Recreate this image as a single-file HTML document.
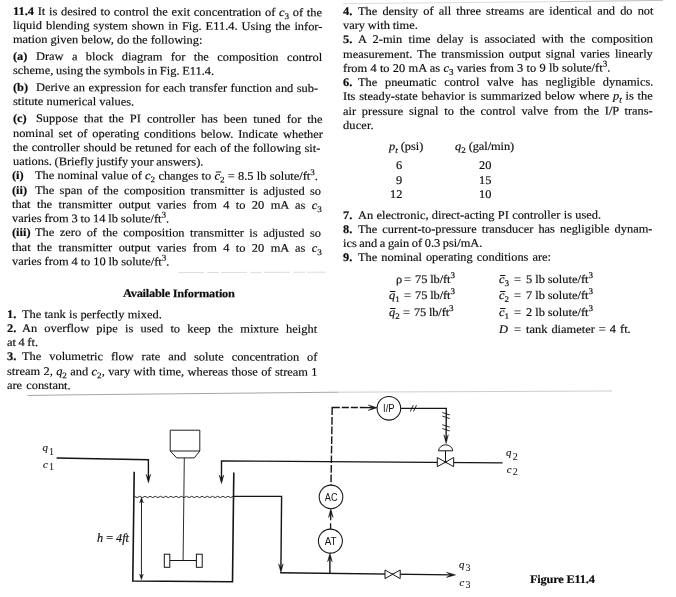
<!DOCTYPE html><html><head><meta charset="utf-8"><title>Exercise 11.4</title><style>

html,body{margin:0;padding:0;background:#fff;}
body{width:676px;height:597px;position:relative;overflow:hidden;font-family:"Liberation Serif",serif;color:#0c0c0c;}
.t{position:absolute;white-space:nowrap;transform-origin:0 0;font-size:11.6px;line-height:14px;height:14px;letter-spacing:0.0px;-webkit-text-stroke:0.17px #111;}
.sb{font-size:8.5px;position:relative;top:2.5px;line-height:0;}
.sp{font-size:8.5px;position:relative;top:-5px;line-height:0;}
.ob{position:relative;}
.ob::before{content:"";position:absolute;left:0.8px;right:-0.6px;top:1.8px;border-top:0.8px solid #111;}
#pg{position:absolute;left:0;top:0;width:676px;height:597px;filter:grayscale(1);}
svg{position:absolute;left:0;top:0;}
.lb{position:absolute;white-space:nowrap;line-height:14px;}

</style></head><body><div id="pg">
<div class="t" id="l0" style="left:13.4px;top:4.65px;transform:matrix(1.0700,0.00421,-0.00393,1,0,0);word-spacing:0.56px;"><b>11.4</b> It is desired to control the exit concentration of <i>c</i><span class="sb">3</span> of the</div>
<div class="t" id="l1" style="left:13.0px;top:19.05px;transform:matrix(1.0700,0.00414,-0.00387,1,0,0);word-spacing:0.86px;">liquid blending system shown in Fig. E11.4. Using the infor-</div>
<div class="t" id="l2" style="left:13.0px;top:33.25px;transform:matrix(1.0700,0.00407,-0.00381,1,0,0);word-spacing:0.01px;">mation given below, do the following:</div>
<div class="t" id="l3" style="left:12.8px;top:50.25px;transform:matrix(1.0700,0.00399,-0.00373,1,0,0);"><b>(a)</b></div>
<div class="t" id="l4" style="left:36.3px;top:50.25px;transform:matrix(1.0700,0.00399,-0.00373,1,0,0);word-spacing:4.95px;">Draw a block diagram for the composition control</div>
<div class="t" id="l5" style="left:12.8px;top:64.45px;transform:matrix(1.0700,0.00392,-0.00366,1,0,0);word-spacing:-0.37px;">scheme, using the symbols in Fig. E11.4.</div>
<div class="t" id="l6" style="left:12.8px;top:81.25px;transform:matrix(1.0700,0.00384,-0.00359,1,0,0);"><b>(b)</b></div>
<div class="t" id="l7" style="left:36.3px;top:81.25px;transform:matrix(1.0700,0.00384,-0.00359,1,0,0);word-spacing:0.37px;">Derive an expression for each transfer function and sub-</div>
<div class="t" id="l8" style="left:12.8px;top:95.25px;transform:matrix(1.0700,0.00377,-0.00352,1,0,0);word-spacing:0.11px;">stitute numerical values.</div>
<div class="t" id="l9" style="left:12.6px;top:112.35px;transform:matrix(1.0700,0.00369,-0.00345,1,0,0);"><b>(c)</b></div>
<div class="t" id="l10" style="left:36.0px;top:112.35px;transform:matrix(1.0700,0.00369,-0.00345,1,0,0);word-spacing:2.74px;">Suppose that the PI controller has been tuned for the</div>
<div class="t" id="l11" style="left:12.5px;top:126.65px;transform:matrix(1.0700,0.00362,-0.00338,1,0,0);word-spacing:1.66px;">nominal set of operating conditions below. Indicate whether</div>
<div class="t" id="l12" style="left:12.5px;top:140.85px;transform:matrix(1.0700,0.00355,-0.00332,1,0,0);word-spacing:0.40px;">the controller should be retuned for each of the following sit-</div>
<div class="t" id="l13" style="left:12.5px;top:155.05px;transform:matrix(1.0700,0.00348,-0.00325,1,0,0);word-spacing:-0.42px;">uations. (Briefly justify your answers).</div>
<div class="t" id="l14" style="left:12.4px;top:169.05px;transform:matrix(1.0700,0.00341,-0.00319,1,0,0);"><b>(i)</b></div>
<div class="t" id="l15" style="left:35.4px;top:169.05px;transform:matrix(1.0700,0.00341,-0.00319,1,0,0);word-spacing:0.13px;">The nominal value of <i>c</i><span class="sb">2</span> changes to <i class="ob">c</i><span class="sb">2</span> = 8.5 lb solute/ft<span class="sp">3</span>.</div>
<div class="t" id="l16" style="left:12.2px;top:183.55px;transform:matrix(1.0700,0.00334,-0.00312,1,0,0);"><b>(ii)</b></div>
<div class="t" id="l17" style="left:35.4px;top:183.55px;transform:matrix(1.0700,0.00334,-0.00312,1,0,0);word-spacing:2.10px;">The span of the composition transmitter is adjusted so</div>
<div class="t" id="l18" style="left:11.7px;top:197.85px;transform:matrix(1.0700,0.00327,-0.00306,1,0,0);word-spacing:3.07px;">that the transmitter output varies from 4 to 20 mA as <i>c</i><span class="sb">3</span></div>
<div class="t" id="l19" style="left:11.7px;top:212.05px;transform:matrix(1.0700,0.00320,-0.00299,1,0,0);word-spacing:-0.21px;">varies from 3 to 14 lb solute/ft<span class="sp">3</span>.</div>
<div class="t" id="l20" style="left:11.7px;top:226.35px;transform:matrix(1.0700,0.00313,-0.00293,1,0,0);"><b>(iii)</b></div>
<div class="t" id="l21" style="left:35.4px;top:226.35px;transform:matrix(1.0700,0.00313,-0.00293,1,0,0);word-spacing:2.27px;">The zero of the composition transmitter is adjusted so</div>
<div class="t" id="l22" style="left:11.7px;top:240.55px;transform:matrix(1.0700,0.00307,-0.00287,1,0,0);word-spacing:3.07px;">that the transmitter output varies from 4 to 20 mA as <i>c</i><span class="sb">3</span></div>
<div class="t" id="l23" style="left:11.5px;top:254.75px;transform:matrix(1.0700,0.00300,-0.00280,1,0,0);word-spacing:-0.17px;">varies from 4 to 10 lb solute/ft<span class="sp">3</span>.</div>
<div class="t" id="l24" style="left:122.9px;top:286.85px;transform:matrix(1.0700,0.00284,-0.00266,1,0,0);word-spacing:0.00px;letter-spacing:-0.25px;"><b>Available Information</b></div>
<div class="t" id="l25" style="left:7.3px;top:307.65px;transform:matrix(1.0700,0.00274,-0.00256,1,0,0);"><b>1.</b></div>
<div class="t" id="l26" style="left:22.0px;top:307.65px;transform:matrix(1.0700,0.00274,-0.00256,1,0,0);word-spacing:0.06px;">The tank is perfectly mixed.</div>
<div class="t" id="l27" style="left:7.3px;top:321.85px;transform:matrix(1.0700,0.00267,-0.00250,1,0,0);"><b>2.</b></div>
<div class="t" id="l28" style="left:22.3px;top:321.85px;transform:matrix(1.0700,0.00267,-0.00250,1,0,0);word-spacing:3.85px;">An overflow pipe is used to keep the mixture height</div>
<div class="t" id="l29" style="left:6.9px;top:335.95px;transform:matrix(1.0700,0.00260,-0.00243,1,0,0);word-spacing:-0.46px;">at 4 ft.</div>
<div class="t" id="l30" style="left:7.3px;top:350.35px;transform:matrix(1.0700,0.00253,-0.00237,1,0,0);"><b>3.</b></div>
<div class="t" id="l31" style="left:22.0px;top:350.35px;transform:matrix(1.0700,0.00253,-0.00237,1,0,0);word-spacing:4.54px;">The volumetric flow rate and solute concentration of</div>
<div class="t" id="l32" style="left:6.9px;top:364.55px;transform:matrix(1.0700,0.00246,-0.00230,1,0,0);word-spacing:0.27px;">stream 2, <i>q</i><span class="sb">2</span> and <i>c</i><span class="sb">2</span>, vary with time, whereas those of stream 1</div>
<div class="t" id="l33" style="left:6.9px;top:379.05px;transform:matrix(1.0700,0.00239,-0.00224,1,0,0);word-spacing:0.91px;">are constant.</div>
<div class="t" id="l34" style="left:343.0px;top:4.85px;transform:matrix(1.0700,-0.00214,0.00200,1,0,0);"><b>4.</b></div>
<div class="t" id="l35" style="left:357.5px;top:4.85px;transform:matrix(1.0700,-0.00214,0.00200,1,0,0);word-spacing:1.86px;">The density of all three streams are identical and do not</div>
<div class="t" id="l36" style="left:343.2px;top:19.05px;transform:matrix(1.0700,-0.00214,0.00200,1,0,0);word-spacing:-0.32px;">vary with time.</div>
<div class="t" id="l37" style="left:343.0px;top:33.25px;transform:matrix(1.0700,-0.00214,0.00200,1,0,0);"><b>5.</b></div>
<div class="t" id="l38" style="left:358.1px;top:33.25px;transform:matrix(1.0700,-0.00214,0.00200,1,0,0);word-spacing:2.97px;">A 2-min time delay is associated with the composition</div>
<div class="t" id="l39" style="left:343.2px;top:47.75px;transform:matrix(1.0700,-0.00214,0.00200,1,0,0);word-spacing:1.76px;">measurement. The transmission output signal varies linearly</div>
<div class="t" id="l40" style="left:343.2px;top:61.95px;transform:matrix(1.0700,-0.00214,0.00200,1,0,0);word-spacing:0.18px;">from 4 to 20 mA as <i>c</i><span class="sb">3</span> varies from 3 to 9 lb solute/ft<span class="sp">3</span>.</div>
<div class="t" id="l41" style="left:343.0px;top:76.15px;transform:matrix(1.0700,-0.00214,0.00200,1,0,0);"><b>6.</b></div>
<div class="t" id="l42" style="left:357.5px;top:76.15px;transform:matrix(1.0700,-0.00214,0.00200,1,0,0);word-spacing:4.22px;">The pneumatic control valve has negligible dynamics.</div>
<div class="t" id="l43" style="left:343.2px;top:90.25px;transform:matrix(1.0700,-0.00214,0.00200,1,0,0);word-spacing:0.60px;">Its steady-state behavior is summarized below where <i>p</i><span class="sb"><i>t</i></span> is the</div>
<div class="t" id="l44" style="left:343.2px;top:104.55px;transform:matrix(1.0700,-0.00214,0.00200,1,0,0);word-spacing:2.46px;">air pressure signal to the control valve from the I/P trans-</div>
<div class="t" id="l45" style="left:343.2px;top:118.75px;transform:matrix(1.0700,-0.00214,0.00200,1,0,0);word-spacing:0.00px;letter-spacing:0.12px;">ducer.</div>
<div class="t" id="l46" style="left:389.4px;top:140.35px;transform:matrix(1.0700,-0.00214,0.00200,1,0,0);word-spacing:-0.20px;"><i>p</i><span class="sb"><i>t</i></span> (psi)</div>
<div class="t" id="l47" style="left:454.8px;top:140.15px;transform:matrix(1.0700,-0.00214,0.00200,1,0,0);word-spacing:0.00px;letter-spacing:-0.07px;"><i>q</i><span class="sb">2</span> (gal/min)</div>
<div class="t" id="l48" style="left:395.8px;top:159.25px;transform:matrix(1.0700,-0.00214,0.00200,1,0,0);">6</div>
<div class="t" id="l49" style="left:479.0px;top:159.25px;transform:matrix(1.0700,-0.00214,0.00200,1,0,0);">20</div>
<div class="t" id="l50" style="left:395.8px;top:173.65px;transform:matrix(1.0700,-0.00214,0.00200,1,0,0);">9</div>
<div class="t" id="l51" style="left:479.0px;top:173.75px;transform:matrix(1.0700,-0.00214,0.00200,1,0,0);">15</div>
<div class="t" id="l52" style="left:390.0px;top:187.75px;transform:matrix(1.0700,-0.00214,0.00200,1,0,0);">12</div>
<div class="t" id="l53" style="left:479.0px;top:187.85px;transform:matrix(1.0700,-0.00214,0.00200,1,0,0);">10</div>
<div class="t" id="l54" style="left:343.0px;top:208.75px;transform:matrix(1.0700,-0.00214,0.00200,1,0,0);"><b>7.</b></div>
<div class="t" id="l55" style="left:358.4px;top:208.75px;transform:matrix(1.0700,-0.00214,0.00200,1,0,0);word-spacing:0.20px;">An electronic, direct-acting PI controller is used.</div>
<div class="t" id="l56" style="left:343.0px;top:222.95px;transform:matrix(1.0700,-0.00214,0.00200,1,0,0);"><b>8.</b></div>
<div class="t" id="l57" style="left:357.5px;top:222.95px;transform:matrix(1.0700,-0.00214,0.00200,1,0,0);word-spacing:1.79px;">The current-to-pressure transducer has negligible dynam-</div>
<div class="t" id="l58" style="left:343.2px;top:237.25px;transform:matrix(1.0700,-0.00214,0.00200,1,0,0);word-spacing:-0.51px;">ics and a gain of 0.3 psi/mA.</div>
<div class="t" id="l59" style="left:343.0px;top:251.45px;transform:matrix(1.0700,-0.00214,0.00200,1,0,0);"><b>9.</b></div>
<div class="t" id="l60" style="left:357.5px;top:251.45px;transform:matrix(1.0700,-0.00214,0.00200,1,0,0);word-spacing:0.82px;">The nominal operating conditions are:</div>
<div class="t" id="l61" style="left:396.1px;top:272.55px;transform:matrix(1.0700,-0.00214,0.00200,1,0,0);">&rho;</div>
<div class="t" id="l62" style="left:403.8px;top:272.55px;transform:matrix(1.0700,-0.00214,0.00200,1,0,0);">=</div>
<div class="t" id="l63" style="left:415.4px;top:272.55px;transform:matrix(1.0700,-0.00214,0.00200,1,0,0);word-spacing:0.00px;letter-spacing:-0.09px;">75 lb/ft<span class="sp">3</span></div>
<div class="t" id="l64" style="left:389.4px;top:288.95px;transform:matrix(1.0700,-0.00214,0.00200,1,0,0);"><i class="ob">q</i><span class="sb">1</span></div>
<div class="t" id="l65" style="left:403.8px;top:288.95px;transform:matrix(1.0700,-0.00214,0.00200,1,0,0);">=</div>
<div class="t" id="l66" style="left:415.4px;top:288.95px;transform:matrix(1.0700,-0.00214,0.00200,1,0,0);word-spacing:0.00px;letter-spacing:-0.09px;">75 lb/ft<span class="sp">3</span></div>
<div class="t" id="l67" style="left:389.4px;top:305.85px;transform:matrix(1.0700,-0.00214,0.00200,1,0,0);"><i class="ob">q</i><span class="sb">2</span></div>
<div class="t" id="l68" style="left:402.7px;top:305.85px;transform:matrix(1.0700,-0.00214,0.00200,1,0,0);">=</div>
<div class="t" id="l69" style="left:413.8px;top:305.85px;transform:matrix(1.0700,-0.00214,0.00200,1,0,0);word-spacing:0.00px;letter-spacing:-0.15px;">75 lb/ft<span class="sp">3</span></div>
<div class="t" id="l70" style="left:499.3px;top:272.55px;transform:matrix(1.0700,-0.00214,0.00200,1,0,0);"><i class="ob">c</i><span class="sb">3</span></div>
<div class="t" id="l71" style="left:514.4px;top:272.55px;transform:matrix(1.0700,-0.00214,0.00200,1,0,0);">=</div>
<div class="t" id="l72" style="left:525.5px;top:272.55px;transform:matrix(1.0700,-0.00214,0.00200,1,0,0);word-spacing:-0.13px;">5 lb solute/ft<span class="sp">3</span></div>
<div class="t" id="l73" style="left:499.3px;top:288.95px;transform:matrix(1.0700,-0.00214,0.00200,1,0,0);"><i class="ob">c</i><span class="sb">2</span></div>
<div class="t" id="l74" style="left:514.4px;top:288.95px;transform:matrix(1.0700,-0.00214,0.00200,1,0,0);">=</div>
<div class="t" id="l75" style="left:525.5px;top:288.95px;transform:matrix(1.0700,-0.00214,0.00200,1,0,0);word-spacing:-0.13px;">7 lb solute/ft<span class="sp">3</span></div>
<div class="t" id="l76" style="left:499.3px;top:305.85px;transform:matrix(1.0700,-0.00214,0.00200,1,0,0);"><i class="ob">c</i><span class="sb">1</span></div>
<div class="t" id="l77" style="left:514.4px;top:305.85px;transform:matrix(1.0700,-0.00214,0.00200,1,0,0);">=</div>
<div class="t" id="l78" style="left:525.5px;top:305.85px;transform:matrix(1.0700,-0.00214,0.00200,1,0,0);word-spacing:-0.13px;">2 lb solute/ft<span class="sp">3</span></div>
<div class="t" id="l79" style="left:499.3px;top:322.95px;transform:matrix(1.0700,-0.00214,0.00200,1,0,0);"><i>D</i></div>
<div class="t" id="l80" style="left:514.4px;top:322.95px;transform:matrix(1.0700,-0.00214,0.00200,1,0,0);">=</div>
<div class="t" id="l81" style="left:525.5px;top:322.95px;transform:matrix(1.0700,-0.00214,0.00200,1,0,0);word-spacing:0.85px;">tank diameter = 4 ft.</div>
<div class="t" id="l82" style="left:530.0px;top:572.55px;transform:matrix(1.0700,0.00053,-0.00050,1,0,0);word-spacing:0.00px;letter-spacing:-0.21px;"><b>Figure E11.4</b></div>
<svg width="676" height="597" viewBox="0 0 676 597">
<path d="M178 272.6 L326 272.2" stroke="#cfcfcf" stroke-width="0.7" stroke-dasharray="26 3 12 2" fill="none"/>
<path d="M27.4 395.5 L75 394.8 L338 392.2" stroke="#8e8e8e" stroke-width="0.8" fill="none"/>
<path d="M338 392.2 L612 391" stroke="#c0c0c0" stroke-width="0.8" fill="none"/>
<path d="M343 3.7 L560 1.6" stroke="#d8d8d8" stroke-width="0.9" fill="none"/>
<path d="M560 1.6 L663 0.4" stroke="#bdbdbd" stroke-width="1" fill="none"/>
<path d="M56.6 458.0 L148.4 459.8 L148.4 480.0" fill="none" stroke="#151515" stroke-width="1.40" />
<path d="M148.4 482.8 L146.1 474.3 L148.4 478.1 L150.7 474.3 Z" fill="#151515" stroke="#151515" stroke-width="0.5" stroke-linejoin="miter"/>
<path d="M502.6 462.9 L221.5 460.9 L221.5 481.0" fill="none" stroke="#151515" stroke-width="1.40" />
<path d="M221.5 483.5 L219.2 475.0 L221.5 478.8 L223.8 475.0 Z" fill="#151515" stroke="#151515" stroke-width="0.5" stroke-linejoin="miter"/>
<path d="M134.2 471.7 L132.8 581.0 L232.5 581.8 L233.8 472.5" fill="none" stroke="#151515" stroke-width="1.60" />
<path d="M134.5 496.3 q2.6 2.6 5.2 0 q2.6 2.6 5.2 0 q2.6 2.6 5.2 0 q2.6 2.6 5.2 0 q2.6 2.6 5.2 0 q2.6 2.6 5.2 0 q2.6 2.6 5.2 0 q2.6 2.6 5.2 0 q2.6 2.6 5.2 0 q2.6 2.6 5.2 0 q2.6 2.6 5.2 0 q2.6 2.6 5.2 0 q2.6 2.6 5.2 0 q2.6 2.6 5.2 0 q2.6 2.6 5.2 0 q2.6 2.6 5.2 0 q2.6 2.6 5.2 0 q2.6 2.6 5.2 0 q2.6 2.6 5.2 0" fill="none" stroke="#151515" stroke-width="0.9"/>
<path d="M170.2 430.2 L199.8 430.2 L199.8 451.0 L194.3 457.9 L176.8 457.9 L170.2 451.0 L170.2 430.2" fill="none" stroke="#151515" stroke-width="0.95" />
<path d="M170.2 451.0 L199.8 451.0" fill="none" stroke="#151515" stroke-width="0.95" />
<path d="M184.3 458.0 L183.1 560.5" fill="none" stroke="#151515" stroke-width="0.90" />
<path d="M169.8 560.5 L196.4 560.5" fill="none" stroke="#151515" stroke-width="1.00" />
<rect x="164.3" y="554.2" width="5.5" height="13.1" fill="#fff" stroke="#151515" stroke-width="1"/>
<rect x="196.4" y="554.2" width="5.8" height="13.1" fill="#fff" stroke="#151515" stroke-width="1"/>
<path d="M141.5 499.0 L141.4 578.0" fill="none" stroke="#151515" stroke-width="0.95" />
<path d="M141.5 497.4 L143.3 502.9 L141.5 500.4 L139.7 502.9 Z" fill="#151515" stroke="#151515" stroke-width="0.5" stroke-linejoin="miter"/>
<path d="M141.4 579.6 L139.6 574.1 L141.4 576.6 L143.2 574.1 Z" fill="#151515" stroke="#151515" stroke-width="0.5" stroke-linejoin="miter"/>
<path d="M233.8 496.4 L281.6 496.4 L280.9 570.0" fill="none" stroke="#151515" stroke-width="1.40" />
<path d="M280.9 572.4 L278.6 563.9 L280.9 567.7 L283.2 563.9 Z" fill="#151515" stroke="#151515" stroke-width="0.5" stroke-linejoin="miter"/>
<path d="M280.2 572.8 L452.0 574.9" fill="none" stroke="#151515" stroke-width="1.40" />
<path d="M455.5 574.9 L446.5 577.4 L450.6 574.8 L446.5 572.2 Z" fill="#151515" stroke="#151515" stroke-width="0.5" stroke-linejoin="miter"/>
<path d="M385.0 570.0 L385.0 578.6 L392.6 574.3 Z M400.2 570.0 L400.2 578.6 L392.6 574.3 Z" fill="#fff" stroke="#151515" stroke-width="1.00" stroke-linejoin="miter"/>
<path d="M329.9 573.2 L329.9 556.0" fill="none" stroke="#151515" stroke-width="1.40" />
<path d="M329.9 553.2 L332.2 561.7 L329.9 557.9 L327.6 561.7 Z" fill="#151515" stroke="#151515" stroke-width="0.5" stroke-linejoin="miter"/>
<path d="M330.6 529.0 L330.6 523.2" fill="none" stroke="#151515" stroke-width="1.30" />
<path d="M330.7 520.2 L330.8 511.0" fill="none" stroke="#151515" stroke-width="1.30" />
<path d="M330.8 508.9 L333.1 517.4 L330.8 513.6 L328.5 517.4 Z" fill="#151515" stroke="#151515" stroke-width="0.5" stroke-linejoin="miter"/>
<path d="M332.2 407.4 L331.0 485.0" fill="none" stroke="#151515" stroke-width="1.40" stroke-dasharray="7.7 1.9" />
<path d="M331.6 407.5 L372.0 407.6" fill="none" stroke="#151515" stroke-width="1.40" stroke-dasharray="8.3 1.9 7.1 1.9 7.1 1.9 40" />
<path d="M377.3 407.7 L368.3 410.4 L372.4 407.7 L368.3 405.0 Z" fill="#151515" stroke="#151515" stroke-width="0.5" stroke-linejoin="miter"/>
<path d="M400.7 408.3 L446.3 408.4 L446.1 441.0" fill="none" stroke="#151515" stroke-width="1.35" />
<path d="M446.1 443.6 L443.9 434.8 L446.1 438.8 L448.3 434.8 Z" fill="#151515" stroke="#151515" stroke-width="0.5" stroke-linejoin="miter"/>
<path d="M410.3 411.5 L413.3 405.2" fill="none" stroke="#151515" stroke-width="0.90" />
<path d="M413.5 411.5 L416.5 405.2" fill="none" stroke="#151515" stroke-width="0.90" />
<path d="M442.3 412.5 L449.8 415.0" fill="none" stroke="#151515" stroke-width="0.90" />
<path d="M442.3 416.1 L449.8 418.6" fill="none" stroke="#151515" stroke-width="0.90" />
<path d="M442.3 424.7 L449.8 427.2" fill="none" stroke="#151515" stroke-width="0.90" />
<path d="M442.3 428.5 L449.8 431.0" fill="none" stroke="#151515" stroke-width="0.90" />
<path d="M437.3 457.5 L437.3 466.7 L445.5 462.1 Z M453.7 457.5 L453.7 466.7 L445.5 462.1 Z" fill="#fff" stroke="#151515" stroke-width="1.00" stroke-linejoin="miter"/>
<path d="M445.5 462.0 L445.5 450.8" fill="none" stroke="#151515" stroke-width="1.00" />
<path d="M438.5 450.8 A7.2 6.8 0 0 1 452.8 450.8 Z" fill="#fff" stroke="#151515" stroke-width="1.0"/>
<circle cx="388.9" cy="408.3" r="11.8" fill="#fff" stroke="#151515" stroke-width="1.05"/>
<circle cx="331.0" cy="496.9" r="11.8" fill="#fff" stroke="#151515" stroke-width="1.05"/>
<circle cx="330.4" cy="541.1" r="12.0" fill="#fff" stroke="#151515" stroke-width="1.05"/>
<text x="383.1" y="412.2" font-family="Liberation Sans" font-size="10.5" fill="#151515" textLength="11.6" lengthAdjust="spacingAndGlyphs">I/P</text>
<text x="324.8" y="500.8" font-family="Liberation Sans" font-size="10.5" fill="#151515" textLength="12.8" lengthAdjust="spacingAndGlyphs">AC</text>
<text x="324.7" y="545.0" font-family="Liberation Sans" font-size="10.5" fill="#151515" textLength="11.9" lengthAdjust="spacingAndGlyphs">AT</text>
<text x="42.4" y="451.4" font-family="Liberation Serif" font-style="italic" font-size="10.8" fill="#151515" stroke="#151515" stroke-width="0.15">q<tspan font-style="normal" font-size="10" dy="3.3" dx="1.2" stroke-width="0.05">1</tspan></text>
<text x="43.0" y="467.7" font-family="Liberation Serif" font-style="italic" font-size="10.8" fill="#151515" stroke="#151515" stroke-width="0.15">c<tspan font-style="normal" font-size="10" dy="2.6" dx="1.2" stroke-width="0.05">1</tspan></text>
<text x="506.1" y="456.4" font-family="Liberation Serif" font-style="italic" font-size="10.8" fill="#151515" stroke="#151515" stroke-width="0.15">q<tspan font-style="normal" font-size="10" dy="3.3" dx="1.2" stroke-width="0.05">2</tspan></text>
<text x="506.7" y="472.8" font-family="Liberation Serif" font-style="italic" font-size="10.8" fill="#151515" stroke="#151515" stroke-width="0.15">c<tspan font-style="normal" font-size="10" dy="2.6" dx="1.2" stroke-width="0.05">2</tspan></text>
<text x="459.0" y="568.1" font-family="Liberation Serif" font-style="italic" font-size="10.8" fill="#151515" stroke="#151515" stroke-width="0.15">q<tspan font-style="normal" font-size="10" dy="3.3" dx="1.2" stroke-width="0.05">3</tspan></text>
<text x="459.5" y="585.6" font-family="Liberation Serif" font-style="italic" font-size="10.8" fill="#151515" stroke="#151515" stroke-width="0.15">c<tspan font-style="normal" font-size="10" dy="2.6" dx="1.2" stroke-width="0.05">3</tspan></text>
<text x="97" y="541.6" font-family="Liberation Serif" font-style="italic" font-size="12.2" fill="#151515" stroke="#151515" stroke-width="0.2" textLength="32" lengthAdjust="spacingAndGlyphs">h <tspan font-style="normal">=</tspan> 4ft</text>
</svg>
</div></body></html>
